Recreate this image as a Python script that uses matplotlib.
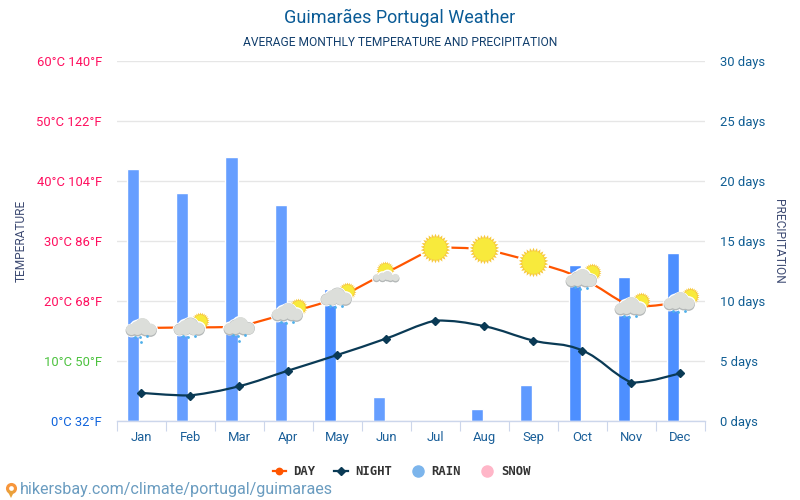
import matplotlib
matplotlib.use("Agg")
import matplotlib.pyplot as plt
from matplotlib.path import Path
from matplotlib.patches import PathPatch
from matplotlib.lines import Line2D
from matplotlib.transforms import Affine2D

plt.rcParams['font.family'] = ['Roboto', 'DejaVu Sans']

months = ['Jan', 'Feb', 'Mar', 'Apr', 'May', 'Jun', 'Jul', 'Aug', 'Sep', 'Oct', 'Nov', 'Dec']
day_temp = [15.5, 15.6, 15.7, 18.0, 20.6, 24.7, 28.9, 28.6, 26.5, 23.7, 19.0, 19.8]
night_temp = [4.7, 4.25, 5.8, 8.4, 11.0, 13.75, 16.75, 15.8, 13.4, 11.75, 6.4, 8.0]
rain_days = [21, 19, 22, 18, 11, 2, 0, 1, 3, 13, 12, 14]
rain_colors = ['#669eff'] * 4 + ['#4a8dff'] + ['#669eff', '#669eff', '#5f9aff', '#5f9aff'] + ['#4d8fff'] * 3
icons = ['rain', 'mix', 'rain', 'mix', 'mix', 'light', 'sun', 'sun', 'sun', 'mix', 'mix', 'mix']
temp_ticks = [0, 10, 20, 30, 40, 50, 60]
temp_labels = ['0°C 32°F', '10°C 50°F', '20°C 68°F', '30°C 86°F', '40°C 104°F', '50°C 122°F', '60°C 140°F']
temp_colors = ['#1064dc', '#4cc23f', '#ff0f5f', '#ff0f5f', '#ff0f5f', '#ff0f5f', '#ff0f5f']
rain_ticks = [0, 5, 10, 15, 20, 25, 30]
rain_labels = [f'{v} days' for v in rain_ticks]

W, H = 800, 500
fig = plt.figure(figsize=(8, 5), dpi=100)
L, R, T, B = 116.5, 705, 61, 421
ax_rain = fig.add_axes([L / W, 1 - B / H, (R - L) / W, (B - T) / H])
ax = ax_rain.twinx()
x = list(range(12))
bar_shift = 0.155

# rain bars and grid
ax_rain.set_xlim(-0.5, 11.5)
ax_rain.set_ylim(0, 30)
ax_rain.set_yticks(rain_ticks)
ax_rain.set_yticklabels([])
ax_rain.yaxis.grid(True, color='#e6e6e6', lw=1)
ax_rain.set_axisbelow(True)
ax_rain.bar([i - bar_shift for i in x], rain_days, width=12 / 49, color=rain_colors,
            edgecolor='white', linewidth=1.0, zorder=2)
ax_rain.set_xticks(x)
ax_rain.set_xticklabels(months, fontsize=9.4, color='#1a5f99')
ax_rain.set_xticks([i - 0.5 for i in range(13)], minor=True)
ax_rain.tick_params(axis='x', which='major', length=0, pad=7.5)
ax_rain.tick_params(axis='x', which='minor', length=7.5, width=0.8, color='#ccd6eb')
ax_rain.tick_params(axis='y', length=0)

for a in (ax_rain, ax):
    for s in a.spines.values():
        s.set_visible(False)
ax_rain.spines['bottom'].set_visible(True)
ax_rain.spines['bottom'].set_color('#ccd6eb')
ax_rain.spines['bottom'].set_linewidth(1.0)

ax.set_ylim(0, 60)
ax.set_yticks([])


def spline(xs, ys):
    """Smooth curve through the data points (bezier with smoothing 1.5)."""
    s = 1.5
    d = s + 1
    verts = [(xs[0], ys[0])]
    codes = [Path.MOVETO]
    ctr = []
    for i in range(len(xs)):
        if i == 0 or i == len(xs) - 1:
            ctr.append(((xs[i], ys[i]), (xs[i], ys[i])))
            continue
        lx = (s * xs[i] + xs[i - 1]) / d
        ly = (s * ys[i] + ys[i - 1]) / d
        rx = (s * xs[i] + xs[i + 1]) / d
        ry = (s * ys[i] + ys[i + 1]) / d
        c = ((ry - ly) * (rx - xs[i])) / (rx - lx) + ys[i] - ry
        ly += c
        ry += c
        lo, hi = min(ys[i - 1], ys[i]), max(ys[i - 1], ys[i])
        if ly > hi:
            ry -= ly - hi
            ly = hi
        elif ly < lo:
            ry += lo - ly
            ly = lo
        lo, hi = min(ys[i + 1], ys[i]), max(ys[i + 1], ys[i])
        if ry > hi:
            ly -= ry - hi
            ry = hi
        elif ry < lo:
            ly += lo - ry
            ry = lo
        ctr.append(((lx, ly), (rx, ry)))
    for i in range(1, len(xs)):
        verts += [ctr[i - 1][1], ctr[i][0], (xs[i], ys[i])]
        codes += [Path.CURVE4] * 3
    return Path(verts, codes)


ax.add_patch(PathPatch(spline(x, day_temp), fc='none', ec='#ff5500', lw=1.6, zorder=3))
ax.add_patch(PathPatch(spline(x, night_temp), fc='none', ec='#0a3a55', lw=1.6, zorder=3))
ax.plot(x, night_temp, ls='none', marker='D', ms=3.9, color='#0a3a55', zorder=4)

SUN_BURST = Path.unit_regular_star(26, innerCircle=0.78)


def disc(xv, yv, dx, dy, r, color, z, marker='o'):
    tr = ax.transData + Affine2D().translate(dx, dy)
    ax.scatter([xv], [yv], s=(2 * r * 0.72) ** 2, marker=marker, c=color, linewidths=0,
               transform=tr, zorder=z, clip_on=False)


CLOUD = [(-10, -1.5, 5.5), (-4, 1, 6.5), (1, 2.5, 7.5), (9, -1, 6), (4, -1.5, 5.5), (-4, -1.5, 5.5)]


def cloud(xv, yv, ox=0, oy=0, kx=1.0, ky=1.0, z=6):
    k = min(kx, ky)
    for dx, dy, r in CLOUD:
        disc(xv, yv, ox + kx * dx, oy + ky * dy, k * r + 1.4, '#ffffff', z - 0.4)
    for dx, dy, r in CLOUD:
        disc(xv, yv, ox + kx * dx, oy + ky * dy - 0.5, k * r + 0.4, '#b4b8b8', z)
    for dx, dy, r in CLOUD:
        disc(xv, yv, ox + kx * dx, oy + ky * dy + 0.3, k * r, '#dcdeda', z + 0.1)


def drops(xv, yv, spots):
    for dx, dy in spots:
        disc(xv, yv, dx, dy, 1.4, '#4fb0ea', 6.5)


for xv, yv, kind in zip(x, day_temp, icons):
    if kind == 'sun':
        disc(xv, yv, 0, 0, 16, '#ffffff', 4.8)
        disc(xv, yv, 0, 0, 14.8, '#f7c93c', 5, SUN_BURST)
        disc(xv, yv, 0, 0, 11.3, '#f8ea3c', 5.1)
    elif kind == 'rain':
        cloud(xv, yv)
        drops(xv, yv, [(-6, -8.5), (-1, -9), (6, -8), (0, -14)])
    elif kind == 'mix':
        disc(xv, yv, 9.5, 6.5, 9, '#f7c93c', 5, SUN_BURST)
        disc(xv, yv, 9.5, 6.5, 6.5, '#f8ea3c', 5.1)
        cloud(xv, yv, ox=-1)
        drops(xv, yv, [(-7, -8.5), (-2, -10), (5, -9)])
    else:
        disc(xv, yv, -1, 3, 9, '#f7c93c', 5, SUN_BURST)
        disc(xv, yv, -1, 3, 6.8, '#f8ea3c', 5.1)
        cloud(xv, yv, ox=0, oy=-4, kx=1.0, ky=0.6)

# tick labels
for v, lab, col in zip(temp_ticks, temp_labels, temp_colors):
    ax.annotate(lab, (0, v), xycoords=ax.get_yaxis_transform(), xytext=(-10.5, -1),
                textcoords='offset points', ha='right', va='center', fontsize=9.4, color=col)
for v, lab in zip(rain_ticks, rain_labels):
    ax_rain.annotate(lab, (1, v), xycoords=ax_rain.get_yaxis_transform(), xytext=(10.5, -1),
                     textcoords='offset points', ha='left', va='center', fontsize=9.4, color='#0f5d93')

# titles
fig.text(400 / W, 1 - 18 / H, 'Guimarães Portugal Weather', ha='center', va='center',
         fontsize=13, color='#0a5b96')
fig.text(400 / W, 1 - 42 / H, 'AVERAGE MONTHLY TEMPERATURE AND PRECIPITATION', ha='center', va='center',
         fontsize=8.65, color='#123f6d')
fig.text(21 / W, 1 - 241 / H, 'TEMPERATURE', rotation=90, ha='center', va='center',
         fontsize=8.6, color='#3d4a72')
fig.text(778 / W, 1 - 241 / H, 'PRECIPITATION', rotation=270, ha='center', va='center',
         fontsize=8.6, color='#3d4a72')

# legend
handles = [
    Line2D([], [], color='#ff5500', lw=1.6, marker='o', ms=4.6),
    Line2D([], [], color='#0a3a55', lw=1.6, marker='D', ms=3.8),
    Line2D([], [], ls='none', marker='o', ms=8, color='#7cb5ec'),
    Line2D([], [], ls='none', marker='o', ms=8, color='#ffb6c8'),
]
leg = fig.legend(handles, ['DAY', 'NIGHT', 'RAIN', 'SNOW'], ncol=4, frameon=False,
                 loc='center', bbox_to_anchor=(401.5 / W, 1 - 471.5 / H),
                 prop={'family': 'DejaVu Sans Mono', 'weight': 'bold', 'size': 8.8},
                 handlelength=1.1, handletextpad=0.6, columnspacing=1.55)
for t in leg.get_texts():
    t.set_color('#333333')

# footer with pin
fig.text(20 / W, 1 - 489.5 / H, 'hikersbay.com/climate/portugal/guimaraes', ha='left', va='center',
         fontsize=11.6, color='#6a9cc0')
px = Affine2D().scale(1 / W, 1 / H) + fig.transFigure
fig.add_artist(Line2D([11], [H - 488], marker='o', ms=8, color='#f7963c', mew=0, transform=px))
fig.add_artist(Line2D([11], [H - 494], marker='v', ms=6, color='#e8a23c', mew=0, transform=px))
fig.add_artist(Line2D([11], [H - 488], marker='o', ms=3.4, color='white', mew=0, transform=px))

fig.savefig('out.png', dpi=100, facecolor='white')
